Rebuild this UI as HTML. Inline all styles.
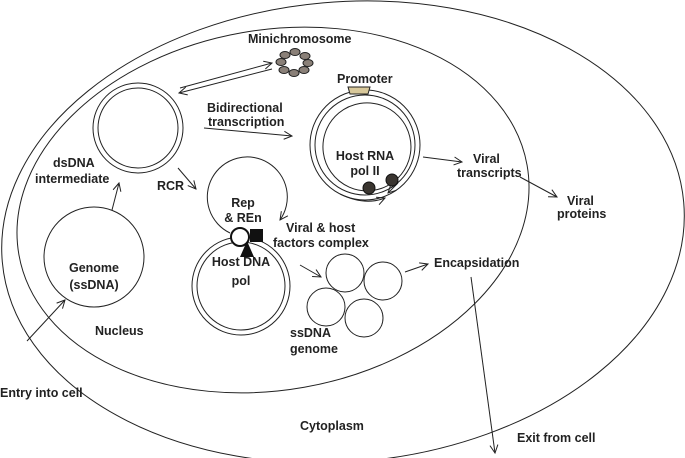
<!DOCTYPE html>
<html><head><style>html,body{margin:0;background:#fff;width:685px;height:458px;overflow:hidden}svg{display:block}text{font-family:"Liberation Sans",sans-serif;font-weight:bold;font-size:12.5px;fill:#222}</style></head><body>
<svg width="685" height="458" viewBox="0 0 685 458">
<defs><marker id="a" markerWidth="10" markerHeight="10" refX="9" refY="5" orient="auto" markerUnits="userSpaceOnUse"><path d="M1,1 L9,5 L1,9" fill="none" stroke="#222" stroke-width="1"/></marker></defs>
<g fill="none" stroke="#222" stroke-width="1">
<ellipse cx="343" cy="232" rx="342" ry="230" transform="rotate(-5 343 232)"/>
<ellipse cx="273" cy="210" rx="258" ry="180" transform="rotate(-10 273 210)"/>
<circle cx="138" cy="128" r="45"/><circle cx="138" cy="128" r="40"/>
<circle cx="94" cy="257" r="50"/>
<path d="M112,210 L119,183" marker-end="url(#a)"/>
<path d="M178,168 L196,189" marker-end="url(#a)"/>
<path d="M230,233 A40,40 0 1 1 280,220" marker-end="url(#a)"/>
<circle cx="241" cy="286" r="49"/><circle cx="241" cy="286" r="44"/>
<circle cx="365" cy="145" r="55"/><circle cx="365" cy="145" r="50"/>
<path d="M392,183 A44,44 0 1 1 398,178"/>
<path d="M398,183 L388,193" marker-end="url(#a)"/>
<path d="M340,194 Q365,206 385,198" marker-end="url(#a)"/>
<path d="M180,88 L272,63" marker-end="url(#a)"/>
<path d="M272,69 L179,93" marker-end="url(#a)"/>
<path d="M204,128 L292,136" marker-end="url(#a)"/>
<circle cx="345" cy="273" r="19"/><circle cx="383" cy="281" r="19"/><circle cx="326" cy="307" r="19"/><circle cx="364" cy="318" r="19"/>
<path d="M300,265 L321,277" marker-end="url(#a)"/>
<path d="M405,272 L428,264" marker-end="url(#a)"/>
<path d="M471,277 L495,453" marker-end="url(#a)"/>
<path d="M423,157 L462,162" marker-end="url(#a)"/>
<path d="M520,177 L557,197" marker-end="url(#a)"/>
<path d="M27,341 L65,300" marker-end="url(#a)"/>
</g>
<path d="M348,87 L370,87 L368,94 L350,94 Z" fill="#d8c89a" stroke="#222"/>
<circle cx="369" cy="188" r="6" fill="#3a3530" stroke="#111"/><circle cx="392" cy="180" r="6" fill="#3a3530" stroke="#111"/>
<g fill="#8a8078" stroke="#222">
<ellipse cx="295" cy="52" rx="5" ry="3.5"/><ellipse cx="305" cy="56" rx="5" ry="3.5"/><ellipse cx="308" cy="63" rx="5" ry="3.5"/><ellipse cx="304" cy="70" rx="5" ry="3.5"/><ellipse cx="294" cy="73" rx="5" ry="3.5"/><ellipse cx="284" cy="70" rx="5" ry="3.5"/><ellipse cx="281" cy="62" rx="5" ry="3.5"/><ellipse cx="285" cy="55" rx="5" ry="3.5"/>
</g>
<circle cx="240" cy="237" r="9" fill="#fff" stroke="#111" stroke-width="2"/>
<rect x="250" y="229" width="13" height="13" fill="#111"/>
<path d="M247,241 L254,257 L240,257 Z" fill="#111"/>
<text x="248" y="43">Minichromosome</text>
<text x="337" y="83">Promoter</text>
<text x="207" y="112">Bidirectional</text><text x="208" y="126">transcription</text>
<text x="365" y="160" text-anchor="middle">Host RNA</text><text x="365" y="175" text-anchor="middle">pol II</text>
<text x="473" y="163">Viral</text><text x="457" y="177">transcripts</text>
<text x="567" y="205">Viral</text><text x="557" y="218">proteins</text>
<text x="53" y="167">dsDNA</text><text x="35" y="183">intermediate</text>
<text x="157" y="190">RCR</text>
<text x="243" y="207" text-anchor="middle">Rep</text><text x="243" y="222" text-anchor="middle">&amp; REn</text>
<text x="286" y="232">Viral &amp; host</text><text x="273" y="247">factors complex</text>
<text x="241" y="266" text-anchor="middle">Host DNA</text><text x="241" y="285" text-anchor="middle">pol</text>
<text x="94" y="272" text-anchor="middle">Genome</text><text x="94" y="289" text-anchor="middle">(ssDNA)</text>
<text x="434" y="267">Encapsidation</text>
<text x="95" y="335">Nucleus</text>
<text x="290" y="337">ssDNA</text><text x="290" y="353">genome</text>
<text x="0" y="397">Entry into cell</text>
<text x="300" y="430">Cytoplasm</text>
<text x="517" y="442">Exit from cell</text>
</svg>
</body></html>
